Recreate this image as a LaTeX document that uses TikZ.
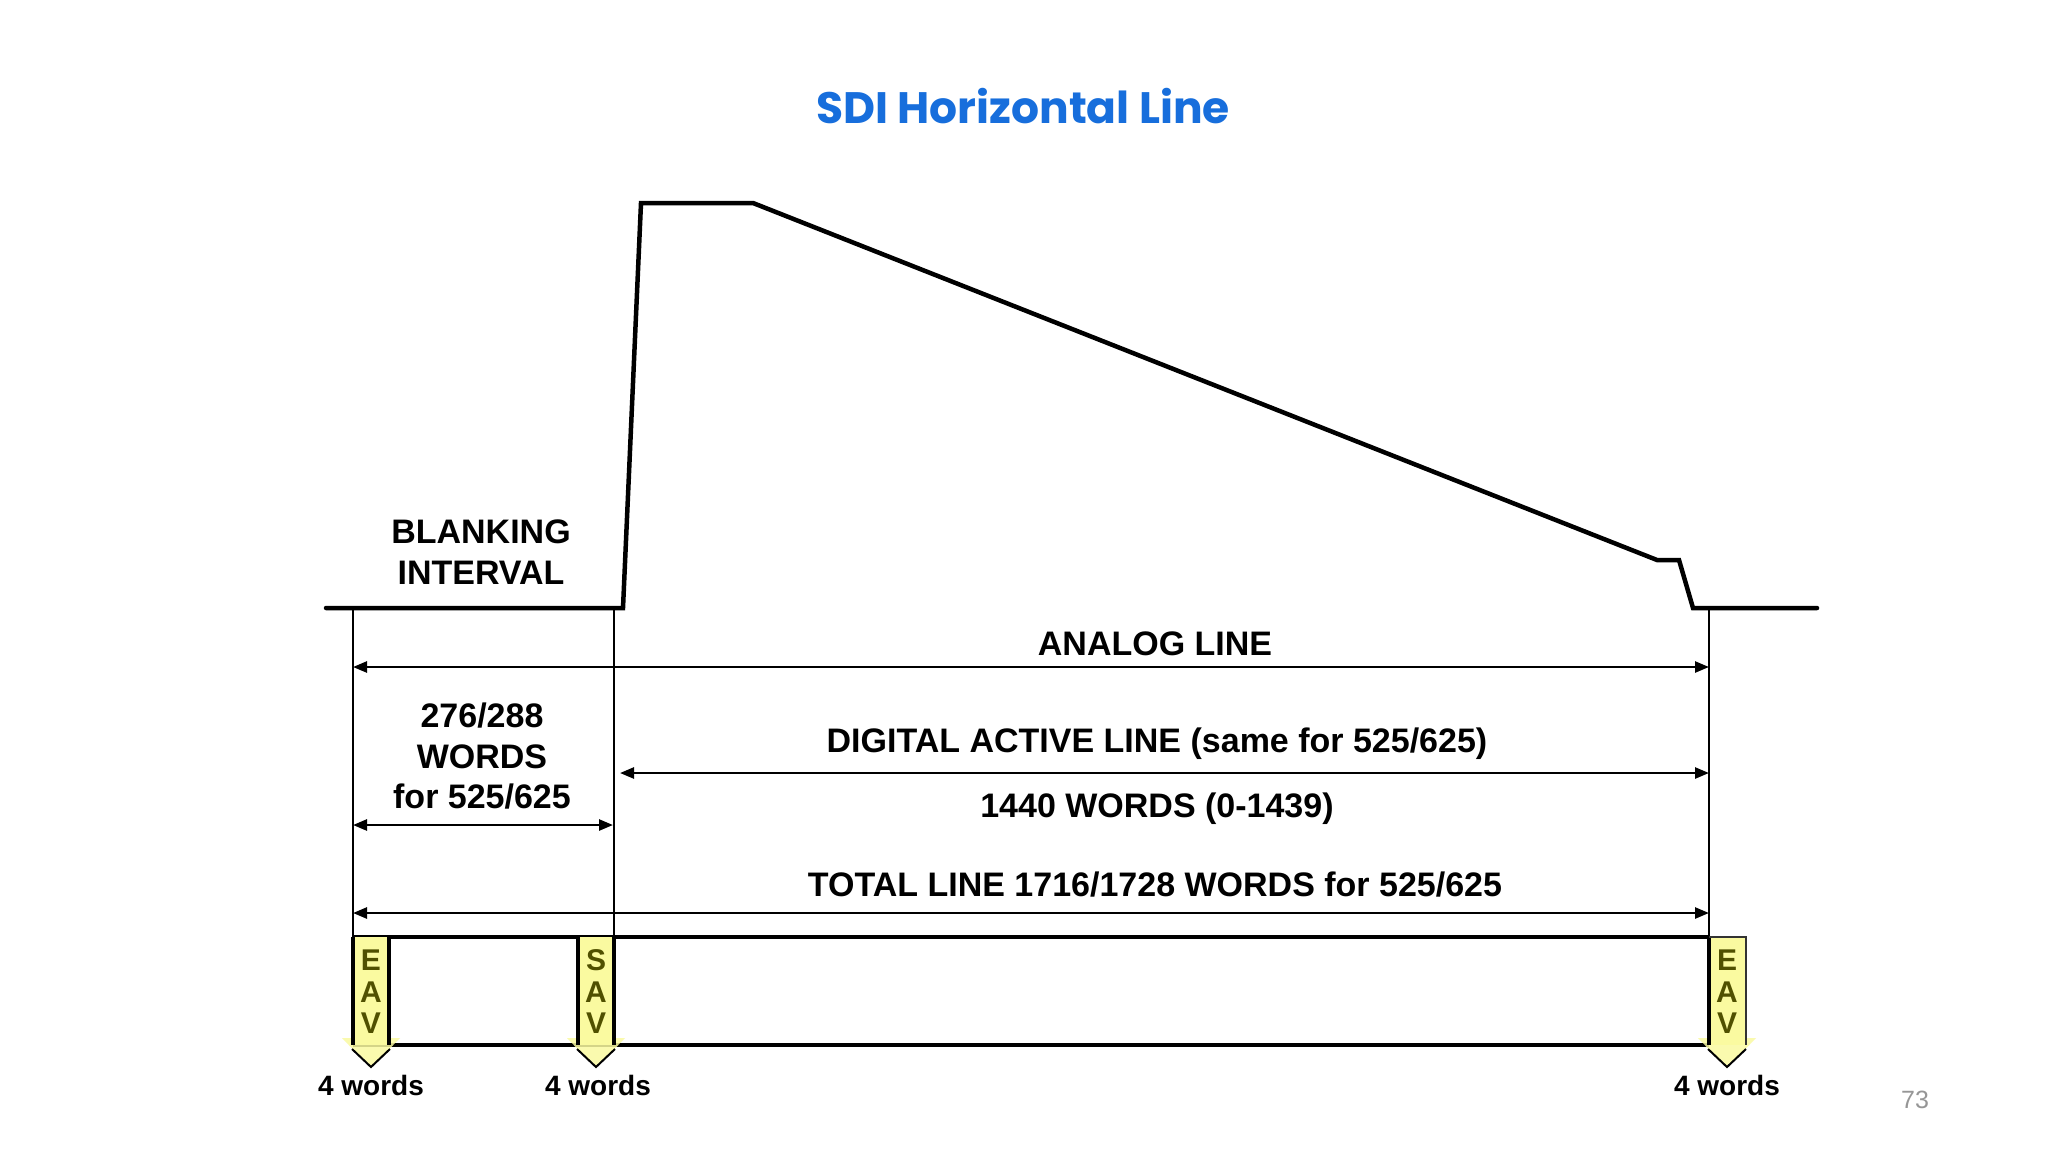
\documentclass[tikz,border=0pt]{standalone}
\usepackage{fontspec}
\setmainfont{Liberation Sans}
\newfontfamily\titlefont{Poppins}
\usetikzlibrary{arrows.meta}
\definecolor{titleblue}{RGB}{23,110,220}
\definecolor{eavyellow}{RGB}{250,250,160}
\definecolor{eavtext}{RGB}{80,80,0}
\definecolor{pagegray}{RGB}{150,150,150}
\begin{document}
\begin{tikzpicture}[x=1pt,y=-1pt,
  lbl/.style={font=\fontsize{34}{40}\selectfont\bfseries, anchor=base, inner sep=0pt},
  small/.style={font=\fontsize{28}{32}\selectfont\bfseries, anchor=base, inner sep=0pt},
  letter/.style={font=\fontsize{30}{32}\selectfont\bfseries, text=eavtext, anchor=base, inner sep=0pt},
  wave/.style={line width=4.5pt, line join=miter, line cap=round},
  vline/.style={line width=2.5pt},
  boxline/.style={line width=3.5pt},
  dimarrow/.style={line width=2.5pt, {Triangle[length=14pt,width=11pt]}-{Triangle[length=14pt,width=11pt]}},
  sidethick/.style={line width=3.5pt},
  sidethin/.style={line width=2pt}]
\useasboundingbox (0,0) rectangle (2048,1152);
\fill[white] (0,0) rectangle (2048,1152);

% title
\node[font=\titlefont\fontsize{44}{48}\selectfont\bfseries, text=titleblue, anchor=base, inner sep=0pt] (title) at (1023,123) {SDI Horizontal Line};

% waveform
\coordinate (w0) at (326,608);
\coordinate (w1) at (623,608);
\coordinate (w2) at (641,203);
\coordinate (w3) at (753,203);
\coordinate (w4) at (1657,560);
\coordinate (w5) at (1679,560);
\coordinate (w6) at (1693,608);
\coordinate (w7) at (1817,608);
\draw[wave] (w0) -- (w1) -- (w2) -- (w3) -- (w4) -- (w5) -- (w6) -- (w7);

% vertical reference lines
\coordinate (aTop) at (353,608);
\coordinate (bTop) at (614,608);
\coordinate (cTop) at (1709,608);
\coordinate (aBot) at (353,1045);
\coordinate (bBot) at (614,1045);
\coordinate (cBot) at (1709,1045);
\coordinate (bMid) at (614,937);
\draw[vline] (aTop) -- (aBot);
\draw[vline] (bTop) -- (bMid);
\draw[vline] (cTop) -- (cBot);

% lower box
\coordinate (boxTL) at (353,937);
\coordinate (boxTR) at (1709,937);
\coordinate (boxBL) at (353,1045);
\coordinate (boxBR) at (1709,1045);
\draw[boxline] (boxTL) -- (boxTR);
\draw[boxline] (boxBL) -- (boxBR);

% texts
\node[lbl] (blank1) at (481,543) {BLANKING};
\node[lbl] (blank2) at (481,584) {INTERVAL};
\node[lbl] (analog) at (1155,655) {ANALOG LINE};
\node[lbl] (digital) at (1157,752) {DIGITAL ACTIVE LINE (same for 525/625)};
\node[lbl] (w1440) at (1157,817) {1440 WORDS (0-1439)};
\node[lbl] (total) at (1155,896) {TOTAL LINE 1716/1728 WORDS for 525/625};
\node[lbl] (b1) at (482,727) {276/288};
\node[lbl] (b2) at (482,768) {WORDS};
\node[lbl] (b3) at (482,808) {for 525/625};

% dimension arrows
\coordinate (anL) at (353,667);
\coordinate (anR) at (1709,667);
\coordinate (dgL) at (620,773);
\coordinate (dgR) at (1709,773);
\coordinate (blL) at (353,825);
\coordinate (blR) at (613,825);
\coordinate (ttL) at (353,913);
\coordinate (ttR) at (1709,913);
\draw[dimarrow] (anL) -- (anR);
\draw[dimarrow] (dgL) -- (dgR);
\draw[dimarrow] (blL) -- (blR);
\draw[dimarrow] (ttL) -- (ttR);

% EAV / SAV markers
\foreach \L/\A/\B/\C/\nm in {353/E/A/V/eavA, 578/S/A/V/sav, 1709/E/A/V/eavB}{
  \pgfmathsetmacro{\R}{\L+36}
  \pgfmathsetmacro{\c}{\L+18}
  \fill[eavyellow] (\L,937) rectangle (\R,1045);
  \fill[eavyellow, opacity=0.85] (\c-29,1038) -- (\c+29,1038) -- (\c,1068) -- cycle;
  \draw[line width=2pt] (\c-19,1049) -- (\c,1067) -- (\c+19,1049);
  \node[letter] (\nm1) at (\c,970) {\A};
  \node[letter] (\nm2) at (\c,1002) {\B};
  \node[letter] (\nm3) at (\c,1033) {\C};
}
\draw[sidethick] (353,937) -- (353,1045);
\draw[sidethick] (389,937) -- (389,1045);
\draw[sidethick] (578,937) -- (578,1045);
\draw[sidethick] (614,937) -- (614,1045);
\draw[sidethick] (1709,937) -- (1709,1045);
\draw[sidethin, draw=black!80] (1709,937) -- (1746,937) -- (1746,1045);

\node[small] (fw1) at (371,1095) {4 words};
\node[small] (fw2) at (598,1095) {4 words};
\node[small] (fw3) at (1727,1095) {4 words};

\node[font=\fontsize{25}{28}\selectfont, text=pagegray, anchor=base, inner sep=0pt] (page) at (1915,1108) {73};
\end{tikzpicture}
\end{document}
